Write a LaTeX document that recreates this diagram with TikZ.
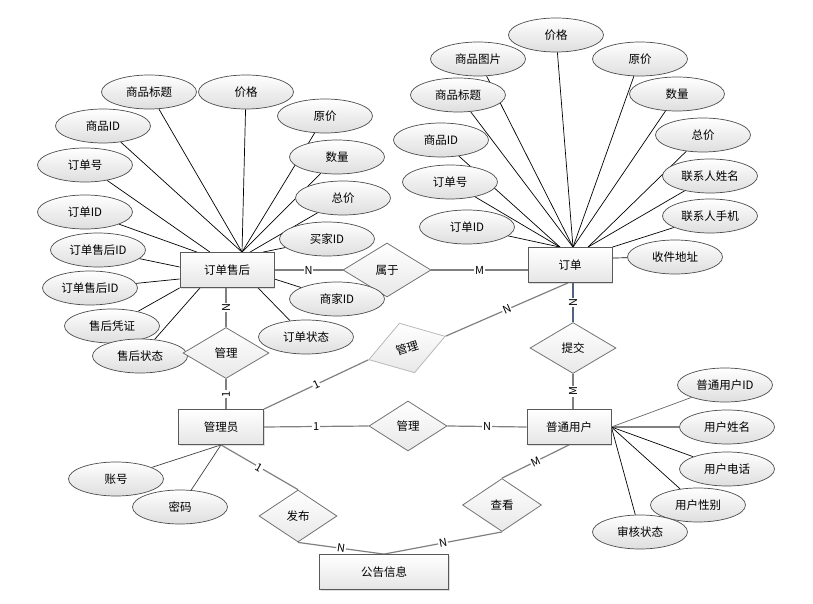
\documentclass[tikz,border=0pt]{standalone}
\usepackage{fontspec}
\newfontfamily\cjk{Noto Sans CJK SC}
\usetikzlibrary{shapes.geometric,shadows,backgrounds}
\definecolor{relline}{RGB}{128,128,128}
\definecolor{blueline}{RGB}{80,100,130}
\begin{document}
\begin{tikzpicture}[x=1pt,y=-1pt,
  every node/.append style={font=\cjk\fontsize{11.5}{13}\selectfont},
  ent/.style={rectangle, draw=black!65, line width=0.8, top color=white, bottom color=black!10,
    minimum height=35, inner sep=0, drop shadow={shadow xshift=1.2pt, shadow yshift=-1.2pt, opacity=0.25}},
  attr/.style={ellipse, draw=black!70, line width=0.7, top color=white, bottom color=black!13,
    minimum width=95, minimum height=34, inner sep=0},
  rel/.style={diamond, draw=black!55, line width=0.8, top color=white, bottom color=black!9,
    inner sep=0, minimum width=86, minimum height=51},
  rl/.style={draw=relline, line width=1.2},
  al/.style={draw=black, line width=0.7},
  lab/.style={fill=white, inner sep=0.8, font=\cjk\fontsize{11}{12}\selectfont}]
\useasboundingbox (0,0) rectangle (813,604);

% relationships (drawn below attributes)
\node[rel, minimum width=88, minimum height=54] (sy) at (387,270) {属于};
\node[rel, draw=black!28, rotate=17, minimum width=80, minimum height=52] (m2) at (407,348) {管理};
\node[rel, minimum width=78, minimum height=50] (m3) at (408,426) {管理};
\node[rel] (tj) at (573,348) {提交};
\node[rel, minimum width=78, minimum height=52] (fb) at (298,516) {发布};
\node[rel, minimum width=79, minimum height=53] (ck) at (502,505) {查看};

% entities
\node[ent, minimum width=94] (os) at (227,270) {订单售后};
\node[ent, minimum width=84] (dd) at (570,265) {订单};
\node[ent, minimum width=85] (adm) at (221,427) {管理员};
\node[ent, minimum width=84] (pu) at (569,427) {普通用户};
\node[ent, minimum width=129] (gg) at (384,572) {公告信息};

% attributes of 订单售后
\node[attr] (a1) at (149,92) {商品标题};
\node[attr] (a2) at (246,92) {价格};
\node[attr] (a3) at (325,116) {原价};
\node[attr] (a4) at (103,126) {商品ID};
\node[attr] (a5) at (337,157) {数量};
\node[attr] (a6) at (85,165) {订单号};
\node[attr] (a7) at (343,198) {总价};
\node[attr] (a8) at (85,212) {订单ID};
\node[attr] (a9) at (327,239) {买家ID};
\node[attr] (a10) at (98,250) {订单售后ID};
\node[attr] (a11) at (90,288) {订单售后ID};
\node[attr] (a12) at (337,299) {商家ID};
\node[attr] (a13) at (112,326) {售后凭证};
\node[attr] (a14) at (306,337) {订单状态};
\node[attr] (a15) at (140,356) {售后状态};

% attributes of 订单
\node[attr] (b1) at (556,35) {价格};
\node[attr] (b2) at (478,59) {商品图片};
\node[attr] (b3) at (640,59) {原价};
\node[attr] (b4) at (458,95) {商品标题};
\node[attr] (b5) at (677,94) {数量};
\node[attr] (b6) at (441,140) {商品ID};
\node[attr] (b7) at (703,135) {总价};
\node[attr] (b8) at (450,182) {订单号};
\node[attr] (b9) at (710,176) {联系人姓名};
\node[attr] (b10) at (467,227) {订单ID};
\node[attr] (b11) at (710,216) {联系人手机};
\node[attr] (b12) at (675,257) {收件地址};

% attributes of 普通用户
\node[attr] (c1) at (725,385) {普通用户ID};
\node[attr] (c2) at (727,427) {用户姓名};
\node[attr] (c3) at (727,469) {用户电话};
\node[attr] (c4) at (698,505) {用户性别};
\node[attr] (c5) at (640,532) {审核状态};

% attributes of 管理员
\node[attr] (d1) at (116,479) {账号};
\node[attr] (d2) at (180,507) {密码};

% relationship drawn above ellipses
\node[rel] (m1) at (226,353) {管理};

\begin{scope}[on background layer]
% attribute lines 订单售后
\draw[al] (a1) -- ([xshift=15]os.north);
\draw[al] (a2) -- ([xshift=15]os.north);
\draw[al] (a3) -- ([xshift=15]os.north);
\draw[al] (a4) -- ([xshift=15]os.north);
\draw[al] (a5) -- ([xshift=15]os.north);
\draw[al] (a6) -- ([xshift=-17]os.north);
\draw[al] (a7) -- ([xshift=23]os.north);
\draw[al] (a8) -- ([xshift=-30]os.north);
\draw[al] (a9) -- ([xshift=36]os.north);
\draw[al] (a10) -- ([yshift=3]os.west);
\draw[al] (a11) -- ([yshift=-9]os.west);
\draw[al] (a13) -- (os.south west);
\draw[al] (a15) -- ([xshift=-27]os.south);
\draw[al] (a14) -- ([xshift=31]os.south);
\draw[al] (a12) -- ([yshift=-9]os.east);
% attribute lines 订单
\draw[al] (b10) -- ([xshift=-10]dd.north);
\draw[al] (b8) -- ([xshift=-10]dd.north);
\draw[al] (b6) -- ([xshift=-10]dd.north);
\draw[al] (b4) -- ([xshift=3]dd.north);
\draw[al] (b2) -- ([xshift=3]dd.north);
\draw[al] (b1) -- ([xshift=3]dd.north);
\draw[al] (b3) -- ([xshift=3]dd.north);
\draw[al] (b5) -- ([xshift=3]dd.north);
\draw[al] (b7) -- ([xshift=18]dd.north);
\draw[al] (b9) -- ([xshift=18]dd.north);
\draw[al] (b11) -- (dd.north east);
\draw[al] (b12) -- ([yshift=7]dd.east);
% attribute lines 普通用户
\draw[al, draw=black!60] (c1) -- (pu.east);
\draw[rl] (c2) -- (pu.east);
\draw[al] (c3) -- (pu.east);
\draw[al] (c4) -- (pu.east);
\draw[al] (c5) -- (pu.east);
% attribute lines 管理员
\draw[al, draw=black!75] (d1) -- (adm.south);
\draw[al, draw=black!75] (d2) -- (adm.south);

% relationship lines
\draw[rl] (os.east) -- node[lab]{N} (sy.west);
\draw[rl] (sy.east) -- node[lab]{M} (sy.east -| dd.west);
\draw[rl] (os.south -| m1.north) -- node[lab, rotate=90]{N} (m1.north);
\draw[rl] (m1.south) -- node[lab, rotate=90]{1} (m1.south |- adm.north);
\draw[rl] (adm.north east) -- node[lab, sloped]{1} (m2.west);
\draw[rl] (m2.east) -- node[lab, sloped]{N} ([xshift=-2]dd.south);
\draw[rl, draw=blueline] (tj.north |- dd.south) -- node[lab, rotate=90]{N} (tj.north);
\draw[rl] (tj.south) -- node[lab, rotate=90]{M} (tj.south |- pu.north);
\draw[rl] (adm.east) -- node[lab]{1} (m3.west);
\draw[rl] (m3.east) -- node[lab]{N} (pu.west);
\draw[rl] (adm.south) -- node[lab, sloped]{1} (fb.north);
\draw[rl] (fb.south) -- node[lab, sloped]{N} (gg.north);
\draw[rl] (gg.north) -- node[lab, sloped]{N} (ck.south);
\draw[rl] (ck.north) -- node[lab, sloped]{M} (pu.south);
\end{scope}
\end{tikzpicture}
\end{document}
